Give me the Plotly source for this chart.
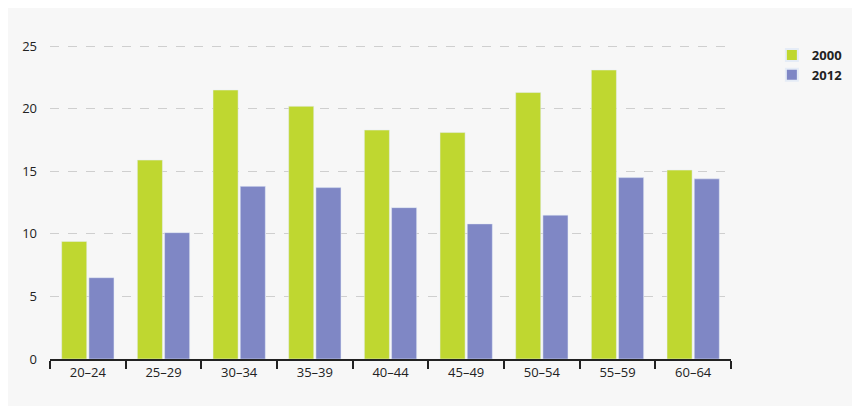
import plotly.graph_objects as go

age_groups = ["20–24", "25–29", "30–34", "35–39", "40–44", "45–49", "50–54", "55–59", "60–64"]
values_2000 = [9.4, 15.9, 21.5, 20.2, 18.3, 18.1, 21.3, 23.1, 15.1]
values_2012 = [6.5, 10.1, 13.8, 13.7, 12.1, 10.8, 11.5, 14.5, 14.4]

fig = go.Figure()
fig.add_trace(go.Bar(x=age_groups, y=values_2000, name="2000", marker_color="#bfd730"))
fig.add_trace(go.Bar(x=age_groups, y=values_2012, name="2012", marker_color="#7f87c5"))

fig.update_layout(
    width=852, height=398,
    margin=dict(l=42, r=126, t=32, b=47),
    paper_bgcolor="#f7f7f7", plot_bgcolor="#f7f7f7",
    barmode="group", bargap=0.28, bargroupgap=0.08,
    font=dict(family="Open Sans", size=13, color="#222"),
    legend=dict(x=1.06, y=1.0, xanchor="left", yanchor="top",
                font=dict(size=13, color="#222", weight="bold"),
                itemwidth=30, itemsizing="constant", tracegroupgap=14),
    showlegend=True,
)
fig.update_xaxes(showline=True, linecolor="#222", linewidth=2,
                 ticks="outside", tickson="boundaries", ticklen=8, tickcolor="#222",
                 tickwidth=2, showgrid=False)
fig.update_yaxes(range=[0, 25.5], dtick=5, showgrid=True, gridcolor="#cfcfcf",
                 griddash="dash", zeroline=False, ticks="", ticklabelstandoff=12)

fig.write_html("out.html")
